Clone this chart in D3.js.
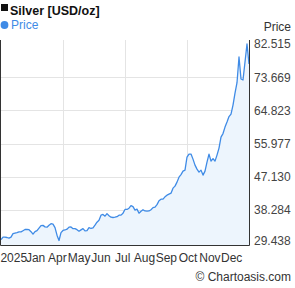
<!DOCTYPE html>
<html>
<head>
<meta charset="utf-8">
<script src="https://cdn.jsdelivr.net/npm/d3@7"></script>
<style>
  body { margin: 0; background: #fff; }
  svg { display: block; font-family: "Liberation Sans", Arial, sans-serif; }
</style>
</head>
<body>
<svg id="chart" width="295" height="288"></svg>
<script>
// silver price, USD/oz, roughly one year of sampled closes
let prices = [
  30.37, 31.04, 31.04, 30.96, 30.77, 31.04, 31.97, 32.11, 32.24, 32.45,
  32.45, 32.77, 33.09, 33.09, 33.04, 32.51, 31.84, 32.51, 32.77, 33.44,
  34.11, 34.19, 33.79, 33.71, 34.24, 34.64, 34.51, 33.57, 31.57, 30.16,
  32.24, 32.83, 32.96, 33.17, 33.71, 33.76, 33.31, 33.31, 33.04, 32.64,
  32.99, 33.31, 32.72, 32.77, 33.57, 33.36, 33.49, 34.24, 35.04, 35.57,
  36.91, 37.09, 36.64, 37.31, 36.77, 36.37, 36.29, 36.37, 36.51, 36.91,
  36.91, 37.44, 38.43, 38.43, 38.77, 39.44, 39.17, 38.24, 38.51, 37.44,
  37.97, 38.37, 38.03, 37.97, 38.03, 38.37, 38.91, 39.04, 39.71, 40.77,
  41.17, 41.17, 41.79, 42.24, 42.51, 42.77, 44.11, 44.64, 45.71, 47.04,
  47.71, 48.64, 48.91, 52.38, 53.18, 53.18, 51.84, 50.24, 49.18, 48.38,
  48.91, 47.58, 48.64, 51.04, 53.18, 51.31, 51.98, 51.31, 52.91, 54.78,
  57.71, 58.65, 60.38, 61.71, 63.18, 63.85, 66.25, 69.45, 72.20, 79.05,
  73.18, 72.92, 77.72, 82.52, 77.18
]
let yTicks = [29.438, 38.284, 47.130, 55.977, 64.823, 73.669, 82.515]
let xLabels = ["2025", "Jan", "Apr", "May", "Jun", "Jul", "Aug", "Sep", "Oct", "Nov", "Dec"]

let svg = d3.select("#chart")
let plotL = 0.5, plotR = 249.5, plotT = 40, plotB = 245.5
let lineColor = "#3f8be6"

let x = d3.scaleLinear().domain([0, prices.length - 1]).range([1, 249])
let y = d3.scaleLinear().domain([29.438, 82.515]).range([243.2, 44])
let xl = d3.scalePoint().domain(xLabels).range([13.8, 231.7])
let quarter = d3.scaleLinear().domain([0, 4]).range([plotL, plotR])

// grid
svg.append("g").selectAll("line")
    .data(yTicks.slice(1, -1))
    .enter().append("line")
    .attr("x1", plotL).attr("x2", plotR)
    .attr("y1", d => Math.round(y(d)) + 0.5)
    .attr("y2", d => Math.round(y(d)) + 0.5)
    .attr("stroke", "#e4e4e4")
svg.append("g").selectAll("line")
    .data([1, 2, 3])
    .enter().append("line")
    .attr("x1", d => Math.round(quarter(d)) + 0.5)
    .attr("x2", d => Math.round(quarter(d)) + 0.5)
    .attr("y1", plotT).attr("y2", plotB)
    .attr("stroke", "#e4e4e4")

// area + line
let area = d3.area()
    .x((d, i) => x(i))
    .y0(plotB)
    .y1(d => y(d))
let line = d3.line()
    .x((d, i) => x(i))
    .y(d => y(d))

svg.append("path")
    .datum(prices)
    .attr("d", area)
    .attr("fill", "#edf5fd")
svg.append("path")
    .datum(prices)
    .attr("d", line)
    .attr("fill", "none")
    .attr("stroke", lineColor)
    .attr("stroke-width", 1.3)
    .attr("stroke-linejoin", "round")

// frame
svg.append("path")
    .attr("d", `M${plotL},${plotT}V${plotB}H${plotR}V${plotT}`)
    .attr("fill", "none")
    .attr("stroke", "#333")

// right axis labels
svg.append("g").selectAll("text")
    .data(yTicks)
    .enter().append("text")
    .attr("x", 254)
    .attr("y", d => Math.min(y(d), 241))
    .attr("dy", "0.36em")
    .attr("font-size", 12)
    .attr("fill", "#444")
    .text(d => d.toFixed(3))

svg.append("text")
    .attr("x", 291).attr("y", 31)
    .attr("text-anchor", "end")
    .attr("font-size", 12)
    .attr("fill", "#333")
    .text("Price")

// bottom labels
svg.append("g").selectAll("text")
    .data(xLabels)
    .enter().append("text")
    .attr("x", d => xl(d))
    .attr("y", 262)
    .attr("text-anchor", "middle")
    .attr("font-size", 12)
    .attr("fill", "#333")
    .text(d => d)

// title + legend
svg.append("rect")
    .attr("x", 1).attr("y", 4).attr("width", 7).attr("height", 7)
    .attr("fill", "#111")
svg.append("text")
    .attr("x", 10).attr("y", 14.5)
    .attr("font-size", 12.5)
    .attr("font-weight", "bold")
    .attr("fill", "#111")
    .text("Silver [USD/oz]")
svg.append("circle")
    .attr("cx", 4.5).attr("cy", 25).attr("r", 3.9)
    .attr("fill", lineColor)
svg.append("text")
    .attr("x", 11).attr("y", 29.3)
    .attr("font-size", 12)
    .attr("fill", lineColor)
    .text("Price")

svg.append("text")
    .attr("x", 291).attr("y", 281)
    .attr("text-anchor", "end")
    .attr("font-size", 12)
    .attr("fill", "#333")
    .text("© Chartoasis.com")
</script>
</body>
</html>
